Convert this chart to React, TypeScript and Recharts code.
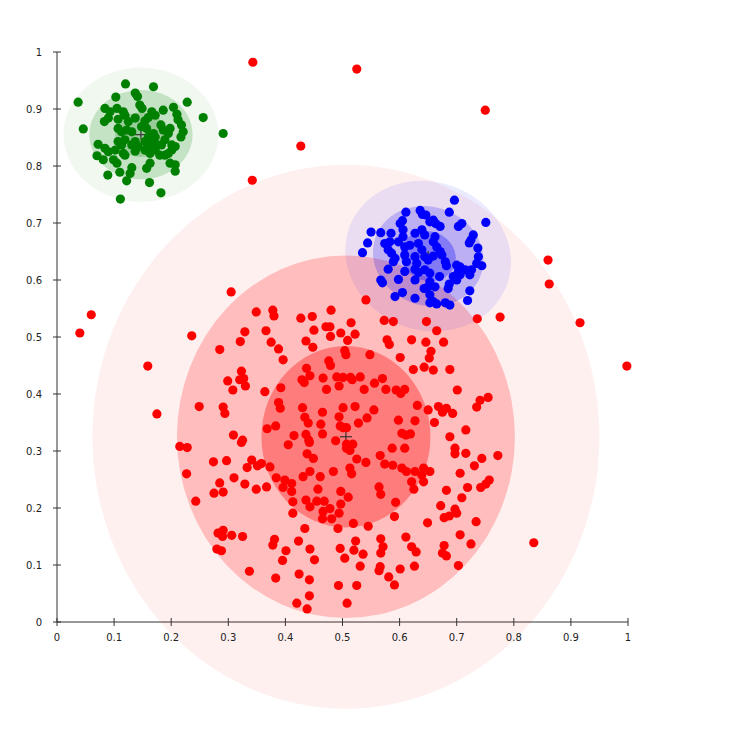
import { ScatterChart, Scatter, XAxis, YAxis, usePlotArea } from "recharts";

// points, [x, y]
const redPoints: [number, number][] = [
  [0.343, 0.982], [0.525, 0.97], [0.75, 0.898], [0.427, 0.835], [0.342, 0.775],
  [0.06, 0.539], [0.04, 0.507], [0.305, 0.579], [0.236, 0.502], [0.159, 0.449],
  [0.175, 0.365], [0.86, 0.635], [0.862, 0.593], [0.916, 0.525], [0.998, 0.449],
  [0.835, 0.139], [0.776, 0.535], [0.736, 0.532], [0.541, 0.565],
  [0.349, 0.544], [0.378, 0.547], [0.38, 0.537], [0.329, 0.509], [0.366, 0.511],
  [0.321, 0.492], [0.375, 0.491], [0.388, 0.479], [0.285, 0.478], [0.396, 0.46],
  [0.323, 0.44], [0.299, 0.423], [0.32, 0.425], [0.327, 0.427], [0.33, 0.414],
  [0.308, 0.407], [0.364, 0.404], [0.392, 0.411], [0.249, 0.378], [0.291, 0.377],
  [0.294, 0.366], [0.388, 0.385], [0.391, 0.375], [0.368, 0.339], [0.383, 0.344],
  [0.309, 0.328], [0.323, 0.315], [0.325, 0.319], [0.215, 0.308], [0.228, 0.306],
  [0.405, 0.311],
  [0.427, 0.533], [0.447, 0.536], [0.48, 0.547], [0.573, 0.529], [0.589, 0.527],
  [0.45, 0.512], [0.471, 0.518], [0.478, 0.518], [0.515, 0.525], [0.497, 0.507],
  [0.522, 0.505], [0.479, 0.501], [0.509, 0.494], [0.436, 0.493], [0.578, 0.495],
  [0.582, 0.487], [0.448, 0.482], [0.504, 0.476], [0.506, 0.469], [0.548, 0.469],
  [0.601, 0.464], [0.476, 0.458], [0.479, 0.45], [0.437, 0.445], [0.443, 0.432],
  [0.429, 0.425], [0.433, 0.42], [0.466, 0.428], [0.49, 0.43], [0.501, 0.429],
  [0.514, 0.429], [0.517, 0.425], [0.531, 0.43], [0.57, 0.427], [0.556, 0.419],
  [0.494, 0.414], [0.472, 0.408], [0.538, 0.408], [0.576, 0.408], [0.594, 0.407],
  [0.602, 0.401], [0.609, 0.408], [0.43, 0.376], [0.434, 0.359], [0.44, 0.349],
  [0.465, 0.368], [0.501, 0.376], [0.522, 0.378], [0.555, 0.372], [0.494, 0.36],
  [0.543, 0.358], [0.462, 0.347], [0.496, 0.344], [0.501, 0.341], [0.507, 0.341],
  [0.528, 0.349], [0.598, 0.354], [0.465, 0.33], [0.415, 0.327], [0.436, 0.329],
  [0.441, 0.319], [0.442, 0.315], [0.488, 0.318], [0.507, 0.312], [0.518, 0.312],
  [0.604, 0.331], [0.611, 0.328], [0.587, 0.305], [0.609, 0.305],
  [0.507, 0.305], [0.513, 0.301], [0.566, 0.292], [0.574, 0.277], [0.438, 0.295],
  [0.449, 0.287], [0.525, 0.286], [0.541, 0.28], [0.443, 0.264], [0.484, 0.264],
  [0.513, 0.27], [0.516, 0.26], [0.461, 0.255], [0.431, 0.255],
  [0.647, 0.527], [0.665, 0.511], [0.621, 0.495], [0.646, 0.491], [0.677, 0.491],
  [0.655, 0.475], [0.652, 0.463], [0.624, 0.443], [0.643, 0.447], [0.659, 0.442],
  [0.688, 0.443], [0.701, 0.407], [0.741, 0.389], [0.755, 0.394], [0.735, 0.377],
  [0.631, 0.38], [0.65, 0.372], [0.668, 0.378], [0.675, 0.368], [0.682, 0.375],
  [0.693, 0.366], [0.627, 0.353], [0.661, 0.35], [0.716, 0.337], [0.619, 0.33],
  [0.688, 0.325], [0.697, 0.305],
  [0.274, 0.281], [0.297, 0.283], [0.341, 0.284], [0.333, 0.271], [0.351, 0.274],
  [0.358, 0.278], [0.373, 0.272], [0.227, 0.26], [0.285, 0.244], [0.31, 0.253],
  [0.275, 0.226], [0.291, 0.228], [0.329, 0.242], [0.349, 0.233], [0.367, 0.237],
  [0.384, 0.253], [0.399, 0.249], [0.396, 0.236], [0.243, 0.212], [0.282, 0.156],
  [0.291, 0.161], [0.29, 0.15], [0.306, 0.152], [0.325, 0.15], [0.28, 0.128],
  [0.288, 0.125], [0.381, 0.145], [0.378, 0.135], [0.401, 0.125], [0.395, 0.108],
  [0.337, 0.089], [0.383, 0.077],
  [0.588, 0.275], [0.604, 0.27], [0.612, 0.264], [0.411, 0.243], [0.411, 0.229],
  [0.457, 0.233], [0.497, 0.229], [0.51, 0.219], [0.564, 0.237], [0.567, 0.224],
  [0.436, 0.214], [0.443, 0.202], [0.455, 0.212], [0.468, 0.212], [0.413, 0.211],
  [0.413, 0.191], [0.478, 0.199], [0.466, 0.194], [0.497, 0.207], [0.494, 0.191],
  [0.465, 0.181], [0.481, 0.181], [0.593, 0.21], [0.591, 0.185], [0.519, 0.173],
  [0.492, 0.164], [0.545, 0.168], [0.434, 0.164], [0.423, 0.142], [0.523, 0.142],
  [0.567, 0.146], [0.571, 0.132], [0.567, 0.121], [0.496, 0.129], [0.52, 0.126],
  [0.536, 0.119], [0.611, 0.149], [0.443, 0.128], [0.451, 0.109], [0.504, 0.112],
  [0.531, 0.098], [0.566, 0.097], [0.564, 0.09], [0.601, 0.093], [0.581, 0.079],
  [0.591, 0.065], [0.424, 0.084], [0.442, 0.074], [0.493, 0.064], [0.525, 0.064],
  [0.442, 0.046], [0.42, 0.033], [0.438, 0.023], [0.508, 0.033],
  [0.697, 0.295], [0.716, 0.296], [0.744, 0.287], [0.772, 0.292], [0.731, 0.274],
  [0.706, 0.261], [0.642, 0.27], [0.653, 0.264], [0.639, 0.258], [0.642, 0.246],
  [0.627, 0.264], [0.621, 0.246], [0.625, 0.233], [0.757, 0.249], [0.751, 0.242],
  [0.742, 0.236], [0.719, 0.236], [0.682, 0.231], [0.709, 0.218], [0.672, 0.204],
  [0.697, 0.198], [0.7, 0.191], [0.687, 0.186], [0.678, 0.183], [0.649, 0.174],
  [0.734, 0.176], [0.706, 0.153], [0.725, 0.137], [0.678, 0.134], [0.675, 0.121],
  [0.682, 0.116], [0.621, 0.132], [0.629, 0.123], [0.626, 0.098], [0.703, 0.099],
];

const greenPoints: [number, number][] = [
  [0.037, 0.912], [0.12, 0.944], [0.169, 0.939], [0.137, 0.928], [0.141, 0.922],
  [0.103, 0.921], [0.228, 0.912], [0.084, 0.901], [0.093, 0.895], [0.105, 0.901],
  [0.116, 0.895], [0.145, 0.907], [0.149, 0.901], [0.166, 0.895], [0.172, 0.889],
  [0.186, 0.898], [0.204, 0.903], [0.21, 0.891], [0.212, 0.881], [0.218, 0.872],
  [0.256, 0.885], [0.046, 0.865], [0.291, 0.857], [0.083, 0.878], [0.09, 0.884],
  [0.107, 0.882], [0.119, 0.889], [0.125, 0.878], [0.137, 0.884], [0.154, 0.879],
  [0.16, 0.885], [0.107, 0.866], [0.113, 0.86], [0.122, 0.863], [0.131, 0.86],
  [0.148, 0.869], [0.157, 0.866], [0.169, 0.857], [0.172, 0.851], [0.182, 0.872],
  [0.186, 0.863], [0.195, 0.857], [0.198, 0.866], [0.221, 0.86], [0.217, 0.851],
  [0.107, 0.843], [0.113, 0.837], [0.119, 0.846], [0.131, 0.837], [0.137, 0.843],
  [0.142, 0.834], [0.154, 0.843], [0.16, 0.851], [0.163, 0.834], [0.166, 0.843],
  [0.175, 0.837], [0.183, 0.837], [0.189, 0.846], [0.201, 0.837], [0.207, 0.834],
  [0.072, 0.838], [0.084, 0.831], [0.09, 0.825], [0.102, 0.828], [0.116, 0.822],
  [0.119, 0.819], [0.137, 0.826], [0.154, 0.828], [0.163, 0.822], [0.172, 0.828],
  [0.18, 0.819], [0.189, 0.819], [0.195, 0.822], [0.201, 0.828], [0.07, 0.818],
  [0.081, 0.811], [0.099, 0.811], [0.105, 0.805], [0.163, 0.805], [0.157, 0.796],
  [0.198, 0.805], [0.207, 0.802], [0.207, 0.791], [0.131, 0.797], [0.128, 0.787],
  [0.11, 0.789], [0.089, 0.784], [0.122, 0.774], [0.162, 0.771], [0.182, 0.753],
  [0.111, 0.742],
];

const bluePoints: [number, number][] = [
  [0.696, 0.74], [0.611, 0.719], [0.636, 0.722], [0.64, 0.715], [0.646, 0.714],
  [0.687, 0.719], [0.605, 0.704], [0.601, 0.699], [0.653, 0.702], [0.659, 0.705],
  [0.663, 0.699], [0.671, 0.694], [0.709, 0.699], [0.703, 0.694], [0.751, 0.701],
  [0.55, 0.684], [0.567, 0.683], [0.585, 0.682], [0.606, 0.688], [0.606, 0.676],
  [0.627, 0.682], [0.639, 0.688], [0.644, 0.679], [0.662, 0.676], [0.659, 0.667],
  [0.729, 0.679], [0.725, 0.67], [0.722, 0.665], [0.544, 0.665], [0.535, 0.648],
  [0.574, 0.664], [0.583, 0.667], [0.58, 0.653], [0.586, 0.647], [0.598, 0.667],
  [0.609, 0.658], [0.618, 0.661], [0.633, 0.664], [0.639, 0.653], [0.665, 0.658],
  [0.671, 0.65], [0.674, 0.644], [0.737, 0.656], [0.738, 0.641], [0.735, 0.629],
  [0.744, 0.625], [0.592, 0.638], [0.589, 0.632], [0.609, 0.644], [0.612, 0.632],
  [0.627, 0.641], [0.63, 0.629], [0.644, 0.641], [0.65, 0.635], [0.659, 0.642],
  [0.68, 0.632], [0.682, 0.625], [0.7, 0.626], [0.706, 0.623], [0.703, 0.615],
  [0.715, 0.618], [0.726, 0.618], [0.723, 0.609], [0.58, 0.619], [0.609, 0.615],
  [0.627, 0.619], [0.633, 0.613], [0.644, 0.618], [0.653, 0.612], [0.67, 0.606],
  [0.694, 0.606], [0.706, 0.609], [0.7, 0.6], [0.567, 0.6], [0.57, 0.595],
  [0.598, 0.601], [0.627, 0.6], [0.653, 0.597], [0.65, 0.588], [0.662, 0.588],
  [0.643, 0.585], [0.687, 0.593], [0.685, 0.585], [0.723, 0.581], [0.605, 0.578],
  [0.592, 0.571], [0.627, 0.568], [0.653, 0.574], [0.659, 0.562], [0.653, 0.56],
  [0.665, 0.558], [0.68, 0.56], [0.688, 0.556], [0.719, 0.564],
];

// cluster mean, sigma along the two axes, tilt in degrees
const clusterNames = ["red", "green", "blue"];
const clusterCenterX = [0.506, 0.147, 0.65];
const clusterCenterY = [0.325, 0.855, 0.642];
const clusterSigmaX = [0.148, 0.0452, 0.049];
const clusterSigmaY = [0.159, 0.0392, 0.0433];
const clusterAngle = [0, 0, -20];
const sigmaLevels = [3, 2, 1];

const axisTicks = [0, 0.1, 0.2, 0.3, 0.4, 0.5, 0.6, 0.7, 0.8, 0.9, 1];

const colors: Record<string, string> = { red: "#ff0000", green: "#008000", blue: "#0000ff" };
const levelAlpha: Record<string, number[]> = {
  red: [0.34, 0.21, 0.06],
  green: [0.22, 0.18, 0.06],
  blue: [0.3, 0.2, 0.08],
};

const FONT = "DejaVu Sans, sans-serif";

const EllipseShape = (props: any) => {
  const plot = usePlotArea();
  const { cx, cy, payload, tint, alphas } = props;
  if (!plot || cx == null || cy == null) return null;
  const rx = payload.k * payload.sx * plot.width;
  const ry = payload.k * payload.sy * plot.height;
  return (
    <ellipse
      cx={cx}
      cy={cy}
      rx={rx}
      ry={ry}
      transform={`rotate(${-payload.angle} ${cx} ${cy})`}
      fill={tint}
      fillOpacity={alphas[payload.k - 1]}
      stroke="none"
    />
  );
};

const Cross = (props: any) => {
  const { cx, cy } = props;
  if (cx == null) return null;
  return (
    <g stroke="#333" strokeWidth={1.2}>
      <line x1={cx - 6} x2={cx + 6} y1={cy} y2={cy} />
      <line x1={cx} x2={cx} y1={cy - 5} y2={cy + 5} />
    </g>
  );
};

const dot = (color: string) => (props: any) =>
  props.cx == null ? null : <circle cx={props.cx} cy={props.cy} r={4.6} fill={color} />;

const XTick = (props: any) => {
  const { x, y, payload } = props;
  return (
    <g>
      <line x1={x} x2={x} y1={y - 4} y2={y + 4} stroke="#333" />
      <text x={x} y={y + 19} textAnchor="middle" fontSize={10} fill="#222" fontFamily={FONT}>
        {payload.value}
      </text>
    </g>
  );
};

const YTick = (props: any) => {
  const { x, y, payload } = props;
  return (
    <g>
      <line x1={x - 4} x2={x + 4} y1={y} y2={y} stroke="#333" />
      <text x={x - 15} y={y + 4} textAnchor="end" fontSize={10} fill="#222" fontFamily={FONT}>
        {payload.value}
      </text>
    </g>
  );
};

const toRows = (pts: [number, number][]) => pts.map(([x, y]) => ({ x, y }));

export default function App() {
  const ellipseData = clusterNames.map((_, i) =>
    sigmaLevels.map((k) => ({
      x: clusterCenterX[i],
      y: clusterCenterY[i],
      k,
      sx: clusterSigmaX[i],
      sy: clusterSigmaY[i],
      angle: clusterAngle[i],
    }))
  );
  const centers = clusterNames.map((_, i) => ({ x: clusterCenterX[i], y: clusterCenterY[i] }));

  return (
    <ScatterChart width={727} height={720} margin={{ top: 44, right: 107, bottom: 76, left: 9 }}>
      <XAxis
        type="number"
        dataKey="x"
        domain={[0, 1]}
        ticks={axisTicks}
        height={30}
        tickSize={0}
        tickMargin={0}
        tickLine={false}
        tick={<XTick />}
        axisLine={{ stroke: "#333" }}
      />
      <YAxis
        type="number"
        dataKey="y"
        domain={[0, 1]}
        ticks={axisTicks}
        width={40}
        tickSize={0}
        tickMargin={0}
        tickLine={false}
        tick={<YTick />}
        axisLine={{ stroke: "#333" }}
      />
      {clusterNames.map((name, i) => (
        <Scatter
          key={"ell-" + name}
          data={ellipseData[i]}
          isAnimationActive={false}
          shape={<EllipseShape tint={colors[name]} alphas={levelAlpha[name]} />}
        />
      ))}
      <Scatter data={centers} isAnimationActive={false} shape={<Cross />} />
      <Scatter data={toRows(redPoints)} isAnimationActive={false} shape={dot(colors.red)} />
      <Scatter data={toRows(greenPoints)} isAnimationActive={false} shape={dot(colors.green)} />
      <Scatter data={toRows(bluePoints)} isAnimationActive={false} shape={dot(colors.blue)} />
    </ScatterChart>
  );
}
